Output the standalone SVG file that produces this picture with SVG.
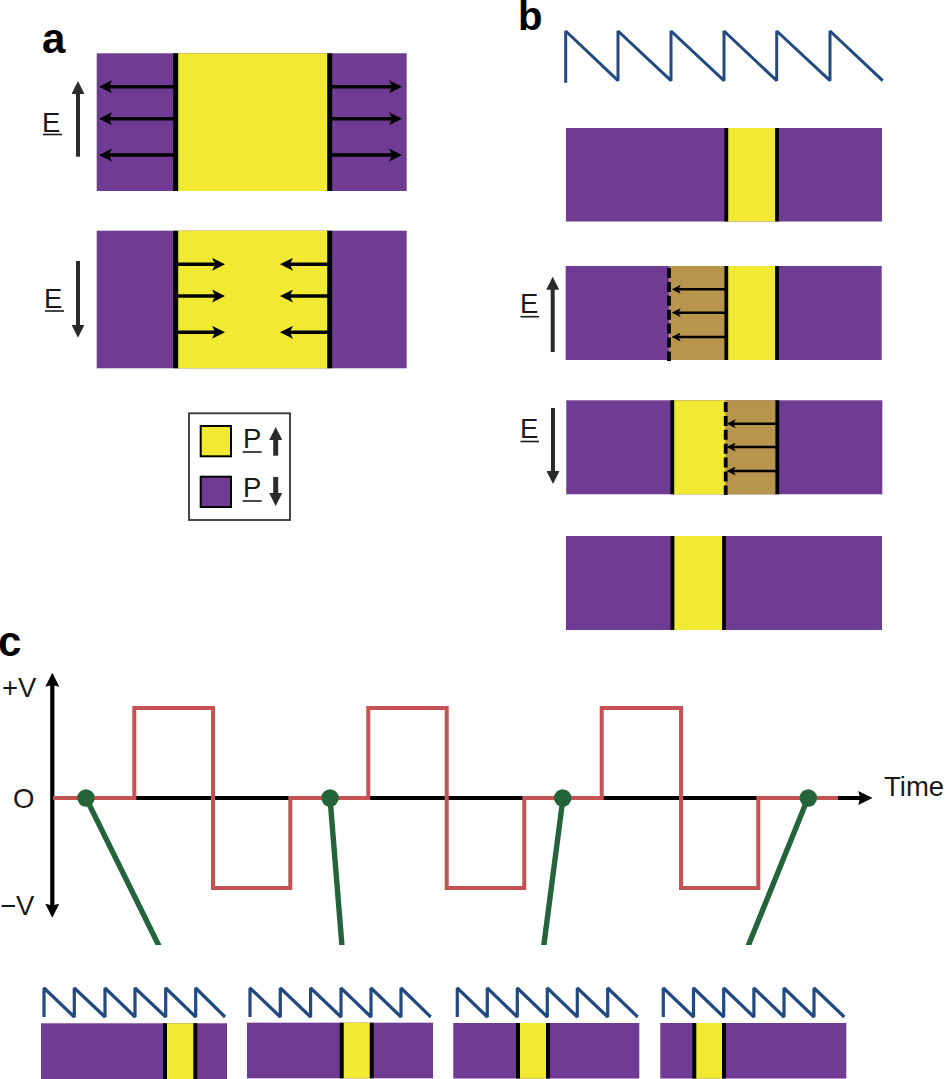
<svg xmlns="http://www.w3.org/2000/svg" width="946" height="1079" viewBox="0 0 946 1079">
<style>
text{font-family:"Liberation Sans",Arial,sans-serif;fill:#1a1a1a}
.lab{font-size:42px;font-weight:bold;fill:#000}
.t{font-size:27.5px}
.p{fill:#703b92}.y{fill:#f2e933}.br{fill:#b8954c}
.w{stroke:#000;stroke-width:5;fill:none}
.w4{stroke:#000;stroke-width:4;fill:none}
.ws{stroke:#000;stroke-width:3.8;fill:none}
.wd{stroke:#000;stroke-width:3.8;fill:none;stroke-dasharray:10 3.9}
.a{stroke:#000;stroke-width:3.6;fill:none}
.as{stroke:#000;stroke-width:2.6;fill:none}
.ef{stroke:#2b2b2b;stroke-width:4;fill:none}
.lf{stroke:#2b2b2b;stroke-width:5;fill:none}
.ax{stroke:#000;stroke-width:4.2;fill:none}
.ul{stroke:#1a1a1a;stroke-width:1.6}
.z{stroke:#234a80;fill:none;stroke-linejoin:bevel;stroke-width:3.2}
.red{stroke:#c65353;stroke-width:4;fill:none;stroke-linejoin:miter}
.gr{stroke:#23643a;stroke-width:5.4;fill:none}
.dot{fill:#23643a}
</style>
<defs>
<marker id="h" viewBox="0 0 12 12" refX="6" refY="6" markerUnits="userSpaceOnUse" markerWidth="13" markerHeight="13" orient="auto"><path d="M0 0 L12 6 L0 12 L3 6Z" fill="#000"/></marker>
<marker id="hs" viewBox="0 0 12 12" refX="6" refY="6" markerUnits="userSpaceOnUse" markerWidth="9" markerHeight="9" orient="auto"><path d="M0 0 L12 6 L0 12 L3 6Z" fill="#000"/></marker>
<marker id="he" viewBox="0 0 12 12" refX="6" refY="6" markerUnits="userSpaceOnUse" markerWidth="13" markerHeight="13" orient="auto"><path d="M0 0 L12 6 L0 12Z" fill="#2b2b2b"/></marker>
<marker id="hax" viewBox="0 0 12 12" refX="6" refY="6" markerUnits="userSpaceOnUse" markerWidth="14" markerHeight="14" orient="auto"><path d="M0 0 L12 6 L0 12 L1.5 6Z" fill="#000"/></marker>
<clipPath id="gc"><rect x="0" y="780" width="946" height="165"/></clipPath>
</defs>

<g id="panel-a">
<text class="lab" x="42" y="53">a</text>
<g id="a-top">
<rect class="p" x="96.7" y="53.3" width="310" height="137.7"/>
<rect class="y" x="175.7" y="53.3" width="154" height="137.7"/>
<path class="w" d="M175.7 53.3V191M329.7 53.3V191"/>
<path class="a" marker-end="url(#h)" d="M175 86.7H105.5"/><path class="a" marker-end="url(#h)" d="M175 118.7H105.5"/><path class="a" marker-end="url(#h)" d="M175 155H105.5"/>
<path class="a" marker-end="url(#h)" d="M330 86.7H395.5"/><path class="a" marker-end="url(#h)" d="M330 118.7H395.5"/><path class="a" marker-end="url(#h)" d="M330 155H395.5"/>
<path class="ef" marker-end="url(#he)" d="M78 156.7V87.5"/>
<text class="t" x="42" y="131.7">E</text><path class="ul" d="M43 134.5H62"/>
</g>
<g id="a-bottom">
<rect class="p" x="96.7" y="230.7" width="310" height="137.6"/>
<rect class="y" x="175.7" y="230.7" width="154" height="137.6"/>
<path class="w" d="M175.7 230.7V368.3M329.7 230.7V368.3"/>
<path class="a" marker-end="url(#h)" d="M176 264.3H218.5"/><path class="a" marker-end="url(#h)" d="M176 296H218.5"/><path class="a" marker-end="url(#h)" d="M176 332.3H218.5"/>
<path class="a" marker-end="url(#h)" d="M330 264.3H286.5"/><path class="a" marker-end="url(#h)" d="M330 296H286.5"/><path class="a" marker-end="url(#h)" d="M330 332.3H286.5"/>
<path class="ef" marker-end="url(#he)" d="M78 261V331.2"/>
<text class="t" x="44" y="308">E</text><path class="ul" d="M45 311H64"/>
</g>
</g>

<g id="legend">
<rect x="189" y="413.3" width="101" height="106.7" fill="#fff" stroke="#333" stroke-width="1.8"/>
<rect class="y" x="200.7" y="426" width="30.3" height="30.3" stroke="#000" stroke-width="2"/>
<rect class="p" x="200.7" y="476.7" width="30.3" height="30.3" stroke="#000" stroke-width="2"/>
<text class="t" x="243" y="448">P</text><path class="ul" d="M242.7 452H261.7"/>
<text class="t" x="243" y="497">P</text><path class="ul" d="M242.7 501H261.7"/>
<path class="lf" marker-end="url(#he)" d="M275.7 455.7V433.5"/>
<path class="lf" marker-end="url(#he)" d="M275.7 477V499.5"/>
</g>

<g id="panel-b">
<text class="lab" x="518" y="30" style="font-size:40px">b</text>
<path id="b-saw" class="z" style="stroke-width:3" d="M565.7 82.7V31L618 80.7V31L671 80.7V31L724 80.7V31L776.7 80.7V31L830 80.7V31L882.7 80.7"/>
<g id="b1">
<rect class="p" x="566" y="128" width="316" height="93.5"/>
<rect class="y" x="726.3" y="128" width="50.7" height="93.5"/>
<path class="ws" d="M726.3 128V221.5M777 128V221.5"/>
</g>
<g id="b2">
<rect class="p" x="565.7" y="266" width="316" height="94"/>
<rect class="br" x="669" y="266" width="57.3" height="94"/>
<rect class="y" x="726.3" y="266" width="50.7" height="94"/>
<path class="ws" d="M726.3 266V360M777 266V360"/>
<path class="wd" d="M669 268V361"/>
<path class="as" marker-end="url(#hs)" d="M726 289.3H676.2"/><path class="as" marker-end="url(#hs)" d="M726 312.7H676.2"/><path class="as" marker-end="url(#hs)" d="M726 337H676.2"/>
<path class="ef" marker-end="url(#he)" d="M552.7 352V283.2"/>
<text class="t" x="520" y="312.7">E</text><path class="ul" d="M520.5 316.7H539"/>
</g>
<g id="b3">
<rect class="p" x="566.3" y="400.3" width="316" height="94"/>
<rect class="y" x="672.3" y="400.3" width="53.4" height="94"/>
<rect class="br" x="725.7" y="400.3" width="51.6" height="94"/>
<path class="ws" d="M672.3 400.3V494.3M777.3 400.3V494.3"/>
<path class="wd" d="M725.7 402V495"/>
<path class="as" marker-end="url(#hs)" d="M777 423.7H731.2"/><path class="as" marker-end="url(#hs)" d="M777 447H731.2"/><path class="as" marker-end="url(#hs)" d="M777 471H731.2"/>
<path class="ef" marker-end="url(#he)" d="M553 408V477.5"/>
<text class="t" x="520" y="438">E</text><path class="ul" d="M520.5 441.5H539"/>
</g>
<g id="b4">
<rect class="p" x="566" y="536" width="316" height="94"/>
<rect class="y" x="672.5" y="536" width="51.5" height="94"/>
<path class="ws" d="M672.5 536V630M724 536V630"/>
</g>
</g>

<g id="panel-c">
<text class="lab" x="-2" y="656">c</text>
<path class="ax" marker-end="url(#hax)" d="M52.3 798V679.7"/>
<path class="ax" marker-end="url(#hax)" d="M52.3 798V910.7"/>
<path class="ax" marker-end="url(#hax)" d="M52 798H865.3"/>
<path id="waveform" class="red" d="M53 798H134.3V708H213V888H290.3V798H368.3V708H446.7V888H524.3V798H601.7V708H681V888H758.3V798H838"/>
<g id="links">
<g clip-path="url(#gc)">
<path class="gr" d="M86 798L161 950"/>
<path class="gr" d="M330 798L342.3 950"/>
<path class="gr" d="M563 798L543.2 950"/>
<path class="gr" d="M808 798L746.5 950"/>
</g>
<circle class="dot" cx="86" cy="798" r="8.7"/>
<circle class="dot" cx="330" cy="798" r="8.7"/>
<circle class="dot" cx="562.7" cy="798" r="8.7"/>
<circle class="dot" cx="808.3" cy="798" r="8.7"/>
</g>
<text class="t" x="2" y="696.7">+V</text>
<text class="t" x="13" y="808">O</text>
<text class="t" x="0" y="915">−V</text>
<text class="t" x="884" y="796">Time</text>

<g id="c1">
<path class="z" d="M44 1017V988L74.3 1017V988L105 1017V988L135 1017V988L165.7 1017V988L195.7 1017V988L225 1017"/>
<rect class="p" x="41" y="1023.3" width="186" height="55.7"/><rect class="y" x="165" y="1023.3" width="30.3" height="55.7"/>
<path class="w4" d="M165 1023.3V1079M195.3 1023.3V1079"/>
</g>
<g id="c2">
<path class="z" d="M250 1017V988L280.3 1017V988L310.6 1017V988L341 1017V988L371 1017V988L401 1017V988L430.7 1017"/>
<rect class="p" x="247" y="1022.7" width="186" height="55.6"/><rect class="y" x="341.7" y="1022.7" width="30" height="55.6"/>
<path class="w4" d="M341.7 1022.7V1078.3M371.7 1022.7V1078.3"/>
</g>
<g id="c3">
<path class="z" d="M457.3 1017V988L487.3 1017V988L517.3 1017V988L547.3 1017V988L577.3 1017V988L607.7 1017V988L637.7 1017"/>
<rect class="p" x="453.3" y="1023" width="186" height="55.5"/><rect class="y" x="518" y="1023" width="30" height="55.5"/>
<path class="w4" d="M518 1023V1078.5M548 1023V1078.5"/>
</g>
<g id="c4">
<path class="z" d="M663.3 1017V988L693.5 1017V988L723.7 1017V988L753.9 1017V988L784 1017V988L814 1017V988L844.3 1017"/>
<rect class="p" x="660.3" y="1023" width="186" height="55.5"/><rect class="y" x="694.3" y="1023" width="29.7" height="55.5"/>
<path class="w4" d="M694.3 1023V1078.5M724 1023V1078.5"/>
</g>
</g>
</svg>
